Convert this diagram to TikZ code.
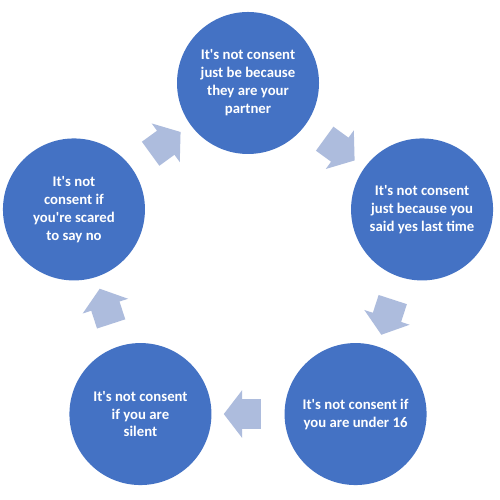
\documentclass[tikz,border=0pt]{standalone}
\usepackage{fontspec}
\setmainfont{Carlito}
\usepackage{xcolor}
\usetikzlibrary{shapes.arrows,calc}
\definecolor{bubblue}{HTML}{4472C4}
\definecolor{arrblue}{HTML}{ADBCDD}
\newcommand{\ap}{\textquotesingle}

\begin{document}
\begin{tikzpicture}[
    bubble/.style={circle,fill=bubblue,text=white,minimum size=2.84cm,inner sep=0pt,align=center,
      font=\fontsize{8.4}{10.2}\selectfont\bfseries},
    cyc/.style={single arrow,fill=arrblue,inner xsep=0pt,inner ysep=0.29cm,minimum height=0.74cm,
      single arrow head extend=0.18cm,single arrow tip angle=105}]
  \useasboundingbox[fill=white] (0,0) rectangle (10,10);
  \begin{scope}[shift={(4.96,4.68)}]
      \node[bubble] (partner) at (90:3.66) {It\ap s not consent\\just be because\\they are your\\partner};
      \node[bubble] (lasttime) at (18:3.66) {It\ap s not consent\\just because you\\said yes last time};
      \node[bubble] (under) at (-54:3.66) {It\ap s not consent if\\you are under 16};
      \node[bubble] (silent) at (-126:3.66) {It\ap s not consent\\if you are\\silent};
      \node[bubble] (scared) at (162:3.66) {It\ap s not\\consent if\\you\ap re scared\\to say no};
      \node[cyc,rotate=-36] (ar1) at ($(partner)!0.5!(lasttime)$) {};
      \node[cyc,rotate=-108] (ar2) at ($(lasttime)!0.5!(under)$) {};
      \node[cyc,rotate=180] (ar3) at ($(under)!0.5!(silent)$) {};
      \node[cyc,rotate=108] (ar4) at ($(silent)!0.5!(scared)$) {};
      \node[cyc,rotate=36] (ar5) at ($(scared)!0.5!(partner)$) {};
  \end{scope}
\end{tikzpicture}
\end{document}
